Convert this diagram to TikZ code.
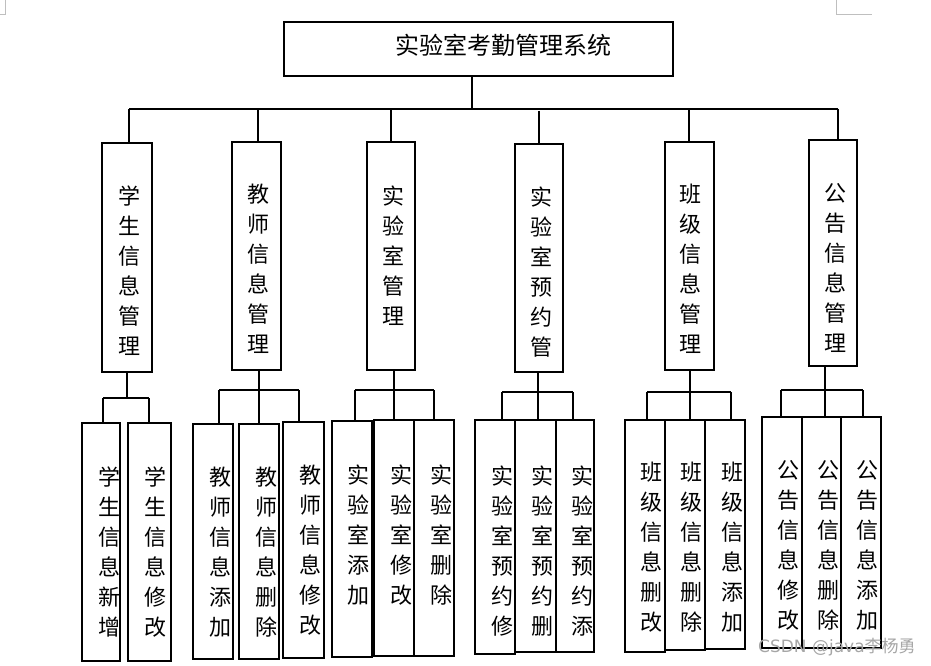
\documentclass[tikz,border=0pt]{standalone}
\usepackage{fontspec}
\newfontfamily\cjk{Noto Sans CJK SC}
\newcommand\mkbox[5]{\node[box, minimum width={#4-#2}, minimum height={#5-#3}] (#1) at ({(#2+#4)/2},{(#3+#5)/2}) {};}
\begin{document}
\begin{tikzpicture}[x=1pt,y=-1pt,
  box/.style={draw=black, line width=2pt, inner sep=0pt, outer sep=0pt},
  ln/.style={line width=2pt},
  cornermark/.style={draw=black!25, line width=1pt},
  vt/.style={font=\cjk\fontsize{22}{30}\selectfont, align=center, inner sep=0pt},
  tt/.style={font=\cjk\fontsize{24}{28}\selectfont, inner sep=0pt},
  wm/.style={font=\fontspec{DejaVu Sans}\fontsize{17}{20}\selectfont, text=black!35, inner sep=0pt}
]
\useasboundingbox (0,0) rectangle (931,666);
% page corner marks
\coordinate (cl1) at (5,0); \coordinate (cl2) at (5,15); \coordinate (cl3) at (0,15);
\coordinate (cr1) at (836,0); \coordinate (cr2) at (836,15); \coordinate (cr3) at (872,15);
\draw[cornermark] (cl1) -- (cl2) -- (cl3);
\draw[cornermark] (cr1) -- (cr2) -- (cr3);

% title
\mkbox{top}{284}{22}{673}{76}
\node[tt] (toptxt) at (503,45) {实验室考勤管理系统};

% level 2 boxes
\mkbox{a}{102}{143}{152}{372}
\mkbox{b}{232}{142}{281}{370}
\mkbox{c}{367}{142}{415}{370}
\mkbox{d}{515}{144}{563}{372}
\mkbox{e}{665}{142}{714}{370}
\mkbox{f}{809}{140}{857}{366}
\node[vt] (at) at (129,271) {学\\生\\信\\息\\管\\理};
\node[vt] (bt) at (258,269) {教\\师\\信\\息\\管\\理};
\node[vt] (ct) at (393,256) {实\\验\\室\\管\\理};
\node[vt] (dt) at (541,272) {实\\验\\室\\预\\约\\管};
\node[vt] (et) at (690,269) {班\\级\\信\\息\\管\\理};
\node[vt] (ft) at (835,268) {公\\告\\信\\息\\管\\理};

% top bus
\coordinate (s0) at (472,109);
\coordinate (bl) at (129,109);
\coordinate (br) at (838,109);
\draw[ln] (top.south -| s0) -- (s0);
\draw[ln] (bl) -- (br);
\coordinate (da) at (129,109);
\coordinate (db) at (258,109);
\coordinate (dc) at (391,109);
\coordinate (dd) at (539,111);
\coordinate (de) at (689,109);
\coordinate (df) at (838,109);
\draw[ln] (da) -- (da |- a.north);
\draw[ln] (db) -- (db |- b.north);
\draw[ln] (dc) -- (dc |- c.north);
\draw[ln] (dd) -- (dd |- d.north);
\draw[ln] (de) -- (de |- e.north);
\draw[ln] (df) -- (df |- f.north);

% level 3 boxes: students
\mkbox{a1}{82}{423}{120}{661}
\mkbox{a2}{128}{423}{171}{661}
\node[vt] (a1t) at (109,552) {学\\生\\信\\息\\新\\增};
\node[vt] (a2t) at (155,552) {学\\生\\信\\息\\修\\改};
\coordinate (ja) at (127,398);
\coordinate (ja1) at (103,398);
\coordinate (ja2) at (149,398);
\draw[ln] (a.south -| ja) -- (ja);
\draw[ln] (ja1) -- (ja2);
\draw[ln] (ja1) -- (ja1 |- a1.north);
\draw[ln] (ja2) -- (ja2 |- a2.north);

% teachers
\mkbox{b1}{193}{424}{233}{659}
\mkbox{b2}{239}{424}{279}{659}
\mkbox{b3}{283}{422}{324}{658}
\node[vt] (b1t) at (220,552) {教\\师\\信\\息\\添\\加};
\node[vt] (b2t) at (266,552) {教\\师\\信\\息\\删\\除};
\node[vt] (b3t) at (310,550) {教\\师\\信\\息\\修\\改};
\coordinate (jb) at (259,390);
\coordinate (jb1) at (219,390);
\coordinate (jb3) at (299,390);
\draw[ln] (b.south -| jb) -- (jb);
\draw[ln] (jb1) -- (jb3);
\draw[ln] (jb1) -- (jb1 |- b1.north);
\draw[ln] (jb) -- (jb |- b2.north);
\draw[ln] (jb3) -- (jb3 |- b3.north);

% labs
\mkbox{c1}{332}{421}{372}{657}
\mkbox{c2}{374}{420}{414}{656}
\mkbox{c3}{414}{420}{454}{656}
\node[vt] (c1t) at (358,535) {实\\验\\室\\添\\加};
\node[vt] (c2t) at (401,535) {实\\验\\室\\修\\改};
\node[vt] (c3t) at (441,535) {实\\验\\室\\删\\除};
\coordinate (jc) at (394,390);
\coordinate (jc1) at (355,390);
\coordinate (jc3) at (434,390);
\draw[ln] (c.south -| jc) -- (jc);
\draw[ln] (jc1) -- (jc3);
\draw[ln] (jc1) -- (jc1 |- c1.north);
\draw[ln] (jc) -- (jc |- c2.north);
\draw[ln] (jc3) -- (jc3 |- c3.north);

% reservations
\mkbox{d1}{475}{420}{515}{654}
\mkbox{d2}{515}{420}{556}{652}
\mkbox{d3}{556}{420}{594}{652}
\begin{scope}
\clip (470,400) rectangle (600,644);
\node[vt] (d1t) at (502,566) {实\\验\\室\\预\\约\\修\\改};
\node[vt] (d2t) at (542,566) {实\\验\\室\\预\\约\\删\\除};
\node[vt] (d3t) at (582,566) {实\\验\\室\\预\\约\\添\\加};
\end{scope}
\coordinate (jd) at (538,392);
\coordinate (jd1) at (502,392);
\coordinate (jd3) at (573,392);
\draw[ln] (d.south -| jd) -- (jd);
\draw[ln] (jd1) -- (jd3);
\draw[ln] (jd1) -- (jd1 |- d1.north);
\draw[ln] (jd) -- (jd |- d2.north);
\draw[ln] (jd3) -- (jd3 |- d3.north);

% classes
\mkbox{e1}{625}{420}{665}{652}
\mkbox{e2}{665}{420}{705}{650}
\mkbox{e3}{705}{420}{745}{649}
\node[vt] (e1t) at (651,547) {班\\级\\信\\息\\删\\改};
\node[vt] (e2t) at (691,547) {班\\级\\信\\息\\删\\除};
\node[vt] (e3t) at (732,547) {班\\级\\信\\息\\添\\加};
\coordinate (je) at (690,392);
\coordinate (je1) at (647,392);
\coordinate (je3) at (731,392);
\draw[ln] (e.south -| je) -- (je);
\draw[ln] (je1) -- (je3);
\draw[ln] (je1) -- (je1 |- e1.north);
\draw[ln] (je) -- (je |- e2.north);
\draw[ln] (je3) -- (je3 |- e3.north);

% notices
\mkbox{f1}{762}{417}{802}{648}
\mkbox{f2}{802}{417}{841}{648}
\mkbox{f3}{841}{417}{881}{648}
\node[vt] (f1t) at (788,545) {公\\告\\信\\息\\修\\改};
\node[vt] (f2t) at (828,545) {公\\告\\信\\息\\删\\除};
\node[vt] (f3t) at (867,545) {公\\告\\信\\息\\添\\加};
\coordinate (jf) at (825,390);
\coordinate (jf1) at (781,390);
\coordinate (jf3) at (863,390);
\draw[ln] (f.south -| jf) -- (jf);
\draw[ln] (jf1) -- (jf3);
\draw[ln] (jf1) -- (jf1 |- f1.north);
\draw[ln] (jf) -- (jf |- f2.north);
\draw[ln] (jf3) -- (jf3 |- f3.north);

% watermark
\node[wm, anchor=west] (wmk) at (758,647) {CSDN @java\cjk 李杨勇};
\end{tikzpicture}
\end{document}
